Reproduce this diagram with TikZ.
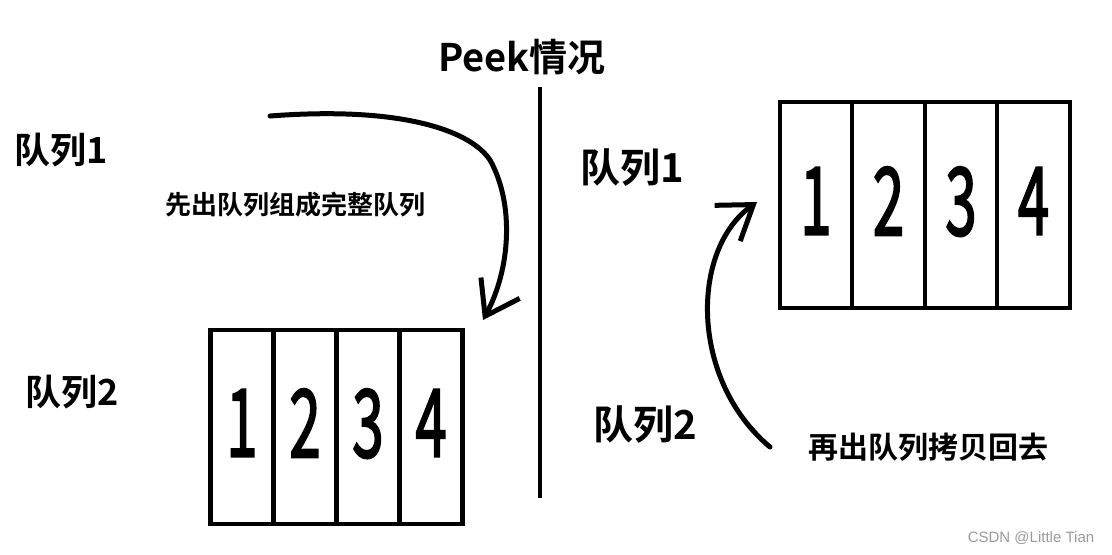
\documentclass[tikz,border=0pt]{standalone}
\usepackage{fontspec}
\usepackage{graphicx}
\usetikzlibrary{arrows.meta,positioning}
\newfontfamily\cjk{Noto Sans CJK SC}[BoldFont={Noto Sans CJK SC Bold}]
\newfontfamily\digitfont{Noto Sans CJK SC}[FakeBold=2.5]
\newfontfamily\wmfont{Liberation Sans}
\definecolor{wmgray}{HTML}{9A9A9A}
\tikzset{
  qname/.style={font=\cjk\bfseries\fontsize{18}{21}\selectfont,inner sep=0pt},
  qnamebig/.style={qname,font=\cjk\bfseries\fontsize{20}{23}\selectfont},
  note/.style={font=\cjk\bfseries\fontsize{13}{16}\selectfont,inner sep=0pt},
  cellL/.style={draw,line width=2.2pt,outer sep=0pt,inner sep=0pt,
    minimum width=31.5pt,minimum height=97pt,font=\digitfont\fontsize{47}{50}\selectfont},
  cellR/.style={cellL,minimum width=36.25pt,minimum height=103pt},
  hand/.style={line width=2.5pt,line cap=round,
    -{Straight Barb[length=16pt,width=22pt,line width=2.5pt]}}
}
\newcommand{\dg}[1]{\raisebox{4pt}{\scalebox{0.6}[1]{#1}}}

\begin{document}
\begin{tikzpicture}[x=0.5pt,y=-0.5pt]
  \useasboundingbox (0,0) rectangle (1112,554);
  % title and divider
  \node[qname,font=\cjk\bfseries\fontsize{19}{22}\selectfont] (title) at (522,57) {Peek情况};
  \coordinate (midtop) at (540,87);
  \coordinate (midbot) at (540,498);
  \draw[line width=2pt] (midtop) -- (midbot);

  % left side
  \node[qname] (q1l) at (61,150) {队列1};
  \node[qname] (q2l) at (72,392) {队列2};
  \node[note] (step1) at (295,205) {先出队列组成完整队列};
  \node[cellL] (l1) at (242,427) {\dg{1}};
  \node[cellL,right=0pt of l1] (l2) {\dg{2}};
  \node[cellL,right=0pt of l2] (l3) {\dg{3}};
  \node[cellL,right=0pt of l3] (l4) {\dg{4}};

  % right side
  \node[qnamebig] (q1r) at (632,168) {队列1};
  \node[qnamebig] (q2r) at (645,425) {队列2};
  \node[note,font=\cjk\bfseries\fontsize{15}{18}\selectfont] (step2) at (928,447) {再出队列拷贝回去};
  \node[cellR] (r1) at (816,205) {\dg{1}};
  \node[cellR,right=0pt of r1] (r2) {\dg{2}};
  \node[cellR,right=0pt of r2] (r3) {\dg{3}};
  \node[cellR,right=0pt of r3] (r4) {\dg{4}};

  % hand drawn arrows
  \coordinate (go1) at (270,116);
  \coordinate (go2) at (483,320);
  \draw[hand] (go1) .. controls (400,106) and (470,130) .. (490,160)
    .. controls (515,205) and (510,270) .. (go2);
  \coordinate (back1) at (770,447);
  \coordinate (back2) at (757,202);
  \draw[hand] (back1) .. controls (690,380) and (690,250) .. (back2);

  \node[font=\wmfont\fontsize{7.5}{9}\selectfont,text=wmgray,inner sep=0pt] (wm) at (1031,538) {CSDN @Little Tian};
\end{tikzpicture}
\end{document}
